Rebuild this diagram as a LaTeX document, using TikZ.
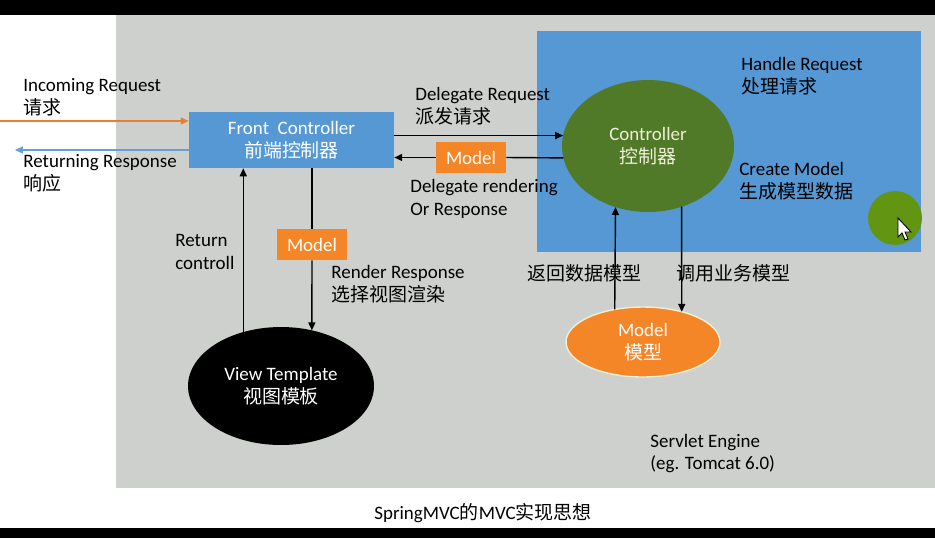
\documentclass[tikz,border=0pt]{standalone}
\usepackage{fontspec}
\setmainfont{Carlito}
\newfontfamily\cjk{Noto Sans CJK SC}
\usetikzlibrary{arrows.meta,shapes.geometric}
\definecolor{bgGrey}{RGB}{206,208,205}
\definecolor{boxBlue}{RGB}{86,152,212}
\definecolor{ctrlGreen}{RGB}{80,121,40}
\definecolor{blobGreen}{RGB}{98,150,18}
\definecolor{mdOrange}{RGB}{245,134,40}
\definecolor{inOrange}{RGB}{237,125,49}
\definecolor{outBlue}{RGB}{100,160,215}
\definecolor{paleText}{RGB}{238,240,214}
\tikzset{
  lbl/.style={anchor=west,align=left,inner sep=0pt,text=black},
  fcbox/.style={rectangle,fill=boxBlue,text=white,align=center,inner sep=0pt,
    minimum width=4.1cm,minimum height=1.12cm},
  mdtag/.style={rectangle,fill=mdOrange,text=white,inner sep=0pt,
    minimum width=1.4cm,minimum height=0.62cm},
  blob/.style={ellipse,align=center,inner sep=0pt,outer sep=0pt},
  arr/.style={line width=0.8pt,-{Triangle[length=4.5pt,width=4pt]}},
}
\begin{document}
\begin{tikzpicture}[x=0.02cm,y=-0.02cm]
        \useasboundingbox (0,0) rectangle (935,538);
        {\fontsize{10.8}{13}\selectfont

        % Screen frame and slide background
        \fill [black] (0,0) rectangle (935,538);%
        \fill [white] (0,15) rectangle (935,528);%
        \fill [bgGrey] (116,15) rectangle (935,488);%
        \fill [boxBlue] (537,31) rectangle (921,252);%

        % Front controller
        \node [fcbox] (fc) at (291.5,140) {Front\ \ Controller\\{\cjk 前端控制器}};%

        % Controller, model and view template
        \node [blob,fill=ctrlGreen,text=paleText,minimum width=3.44cm,minimum height=2.64cm]
          (ctrl) at (648,146) {Controller\\{\cjk 控制器}};%
        \node [blob,fill=mdOrange,draw=paleText,line width=0.8pt,text=white,
          minimum width=3.08cm,minimum height=1.4cm] (md) at (643,342) {Model\\{\cjk 模型}};%
        \node [blob,fill=black,text=white,minimum width=3.72cm,minimum height=2.36cm]
          (vt) at (281,386) {View Template\\{\cjk 视图模板}};%

        % Model tags on the connectors
        \node [mdtag] (m1) at (471,157.5) {Model};%
        \node [mdtag] (m2) at (312,244.5) {Model};%

        % Request coming in, response going out
        \coordinate (inL) at (0,121);%
        \coordinate (outL) at (15,150);%
        \draw [arr,inOrange] (inL) -- (fc.west |- inL);%
        \draw [arr,outBlue,line width=0.6pt] (fc.west |- outL) -- (outL);%

        % Front controller <-> controller
        \draw [arr] (fc.east |- ctrl.173) -- (ctrl.173);%
        \draw [line width=0.8pt] (ctrl.188) -- (m1.east);%
        \draw [arr] (m1.west) -- (fc.east |- m1.west);%

        % Front controller <-> view template
        \draw [arr] (vt.125) -- (vt.125 |- fc.south);%
        \draw [line width=0.8pt] (m2 |- fc.south) -- (m2.north);%
        \draw [arr] (m2.south) -- (vt.61);%

        % Controller <-> model
        \draw [arr] (md.131) -- (ctrl.242);%
        \draw [arr] (ctrl.299) -- (md.38);%

        % Labels
        \node [lbl] (tIn) at (23,97.5) {Incoming Request\\{\cjk 请求}};%
        \node [lbl] (tOut) at (23,173.5) {Returning Response\\{\cjk 响应}};%
        \node [lbl] (tDel) at (415,106) {Delegate Request\\{\cjk 派发请求}};%
        \node [lbl] (tRend) at (410,199) {Delegate rendering\\Or Response};%
        \node [lbl] (tHand) at (741,76.5) {Handle Request\\{\cjk 处理请求}};%
        \node [lbl] (tCrea) at (739,181) {Create Model\\{\cjk 生成模型数据}};%
        \node [lbl] (tRet) at (175,252) {Return\\controll};%
        \node [lbl] (tRes) at (331,284) {Render Response\\{\cjk 选择视图渲染}};%
        \node [lbl] (tBack) at (527,273) {\cjk 返回数据模型};%
        \node [lbl] (tCall) at (676,273) {\cjk 调用业务模型};%
        \node [lbl] (tEng) at (650,453.5) {Servlet Engine\\(eg. Tomcat 6.0)};%
        \node [inner sep=0pt] (cap) at (483,513) {SpringMVC{\cjk 的}MVC{\cjk 实现思想}};%

        % Pointer highlight
        \fill [blobGreen] (895,218) circle (27);%
        \draw [fill=white,line width=0.5pt] (898,218) -- (898,237) -- (902,233) -- (905,240)
          -- (908,239) -- (905,232) -- (911,232) -- cycle;%
        }
\end{tikzpicture}
\end{document}
